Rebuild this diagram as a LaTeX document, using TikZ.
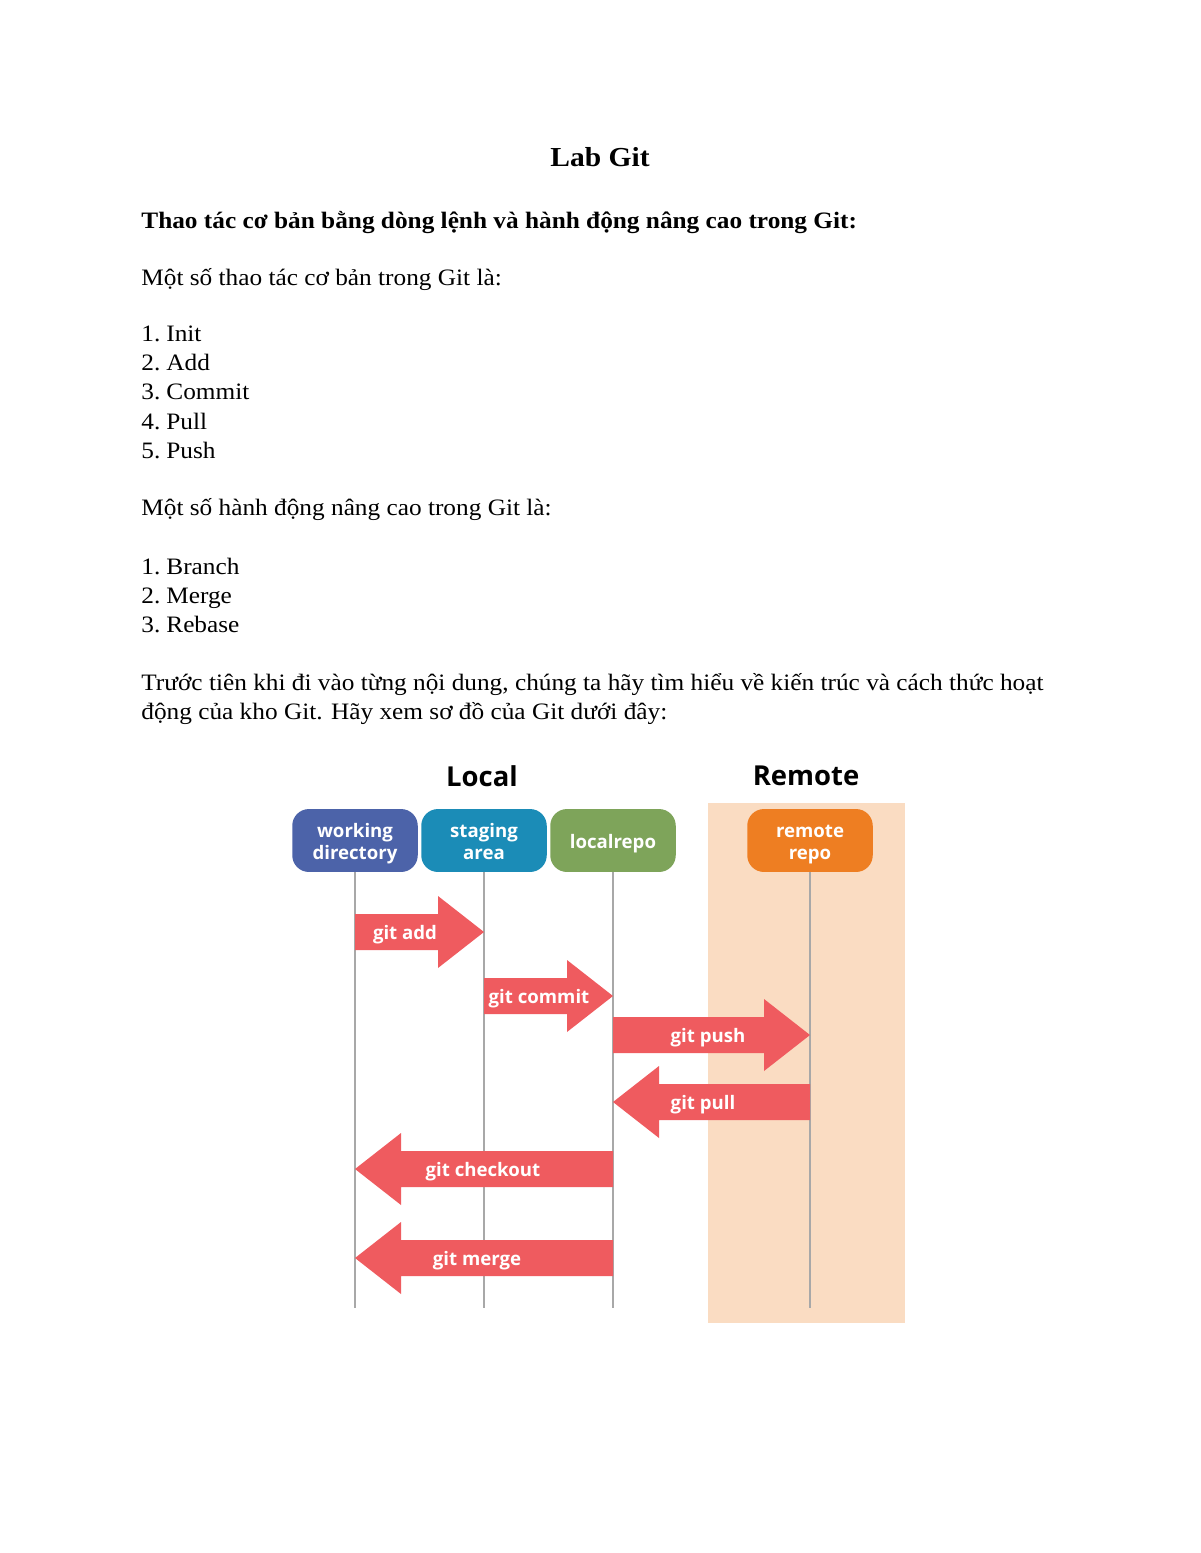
\documentclass[tikz,border=0pt]{standalone}
\usepackage{fontspec}
\setmainfont{Liberation Serif}[FakeStretch=1.075]
\newfontfamily\osans{Open Sans}
\usetikzlibrary{calc}
\definecolor{wdblue}{HTML}{4C63A9}
\definecolor{sablue}{HTML}{1B8CB7}
\definecolor{lrgreen}{HTML}{7EA45A}
\definecolor{rrorange}{HTML}{EE7E22}
\definecolor{peach}{HTML}{FADCC2}
\definecolor{arrowred}{HTML}{EF5B5F}
\definecolor{lifegray}{HTML}{A8A8A8}
\newcommand{\gitarrow}[4]{% from, to, y, sign (-1 right arrow, +1 left arrow)
  \fill[arrowred] (#1 |- 0,{#3-18}) -- ($(#2 |- 0,{#3-18})+({#4*46},0)$)
    -- ($(#2 |- 0,{#3-36})+({#4*46},0)$) -- (#2 |- 0,#3)
    -- ($(#2 |- 0,{#3+36})+({#4*46},0)$) -- ($(#2 |- 0,{#3+18})+({#4*46},0)$)
    -- (#1 |- 0,{#3+18}) -- cycle;}
\newcommand{\boxtext}[1]{\raisebox{-1.6pt}[\height][\depth]{\begin{tabular}{@{}c@{}}#1\end{tabular}}}
\begin{document}
\begin{tikzpicture}[x=0.51pt,y=-0.51pt,
  bodytext/.style={anchor=base west, inner sep=0pt, font=\fontsize{12}{14}\selectfont},
  boldtext/.style={bodytext, font=\fontsize{12}{14}\selectfont\bfseries},
  gitbox/.style={rounded corners=8.5pt, minimum width=64pt, minimum height=32.1pt,
    inner sep=0pt, align=center, text=white, font=\osans\bfseries\fontsize{9.5}{11.2}\selectfont},
  lifeline/.style={draw=lifegray, line width=1pt},
  arrowlabel/.style={text=white, inner sep=0pt, yshift=-1.5pt, font=\osans\bfseries\fontsize{9.5}{11}\selectfont},
  sectionhead/.style={inner sep=0pt, font=\osans\bfseries\fontsize{14}{16}\selectfont}]
\useasboundingbox (0,0) rectangle (1200,1553);

% ---- text ----
\node[anchor=base, inner sep=0pt, font=\fontsize{14}{16}\selectfont\bfseries] (title) at (600,167) {Lab Git};
\node[boldtext] (head) at (141,228) {Thao tác cơ bản bằng dòng lệnh và hành động nâng cao trong Git:};
\node[bodytext] (intro1) at (141,285) {Một số thao tác cơ bản trong Git là:};
\node[bodytext] (n1) at (141,341) {1.}; \node[bodytext] (i1) at (166,341) {Init};
\node[bodytext] (n2) at (141,370) {2.}; \node[bodytext] (i2) at (166,370) {Add};
\node[bodytext] (n3) at (141,399) {3.}; \node[bodytext] (i3) at (166,399) {Commit};
\node[bodytext] (n4) at (141,429) {4.}; \node[bodytext] (i4) at (166,429) {Pull};
\node[bodytext] (n5) at (141,458) {5.}; \node[bodytext] (i5) at (166,458) {Push};
\node[bodytext] (intro2) at (141,515) {Một số hành động nâng cao trong Git là:};
\node[bodytext] (m1) at (141,574) {1.}; \node[bodytext] (j1) at (166,574) {Branch};
\node[bodytext] (m2) at (141,603) {2.}; \node[bodytext] (j2) at (166,603) {Merge};
\node[bodytext] (m3) at (141,632) {3.}; \node[bodytext] (j3) at (166,632) {Rebase};
\node[bodytext] (para1) at (141,690) {Trước tiên khi đi vào từng nội dung, chúng ta hãy tìm hiểu về kiến trúc và cách thức hoạt};
\node[bodytext] (para2) at (141,719) {động của kho Git. Hãy xem sơ đồ của Git dưới đây:};

% ---- diagram ----
\fill[peach] (708,803) rectangle (905,1323);
\node[sectionhead] (local) at (482,776) {Local};
\node[sectionhead] (remote) at (806,776) {Remote};

\node[gitbox, fill=wdblue] (wd) at (355,840.5) {\boxtext{working\\directory}};
\node[gitbox, fill=sablue] (sa) at (484,840.5) {\boxtext{staging\\area}};
\node[gitbox, fill=lrgreen] (lr) at (613,840.5) {\boxtext{localrepo}};
\node[gitbox, fill=rrorange] (rr) at (810,840.5) {\boxtext{remote\\repo}};

\coordinate (wdend) at (wd.south |- 0,1308);
\coordinate (saend) at (sa.south |- 0,1308);
\coordinate (lrend) at (lr.south |- 0,1308);
\coordinate (rrend) at (rr.south |- 0,1308);
\draw[lifeline] (wd.south) -- (wdend);
\draw[lifeline] (sa.south) -- (saend);
\draw[lifeline] (lr.south) -- (lrend);
\draw[lifeline] (rr.south) -- (rrend);

\gitarrow{wd}{sa}{932}{-1}
\gitarrow{sa}{lr}{996}{-1}
\gitarrow{lr}{rr}{1035}{-1}
\gitarrow{rr}{lr}{1102}{1}
\gitarrow{lr}{wd}{1169}{1}
\gitarrow{lr}{wd}{1258}{1}

\node[arrowlabel] (ladd) at (405,932) {git add};
\node[arrowlabel] (lcommit) at (539,996) {git commit};
\node[arrowlabel] (lpush) at (708,1035) {git push};
\node[arrowlabel] (lpull) at (703,1102) {git pull};
\node[arrowlabel] (lcheckout) at (483,1169) {git checkout};
\node[arrowlabel] (lmerge) at (477,1258) {git merge};
\end{tikzpicture}
\end{document}
